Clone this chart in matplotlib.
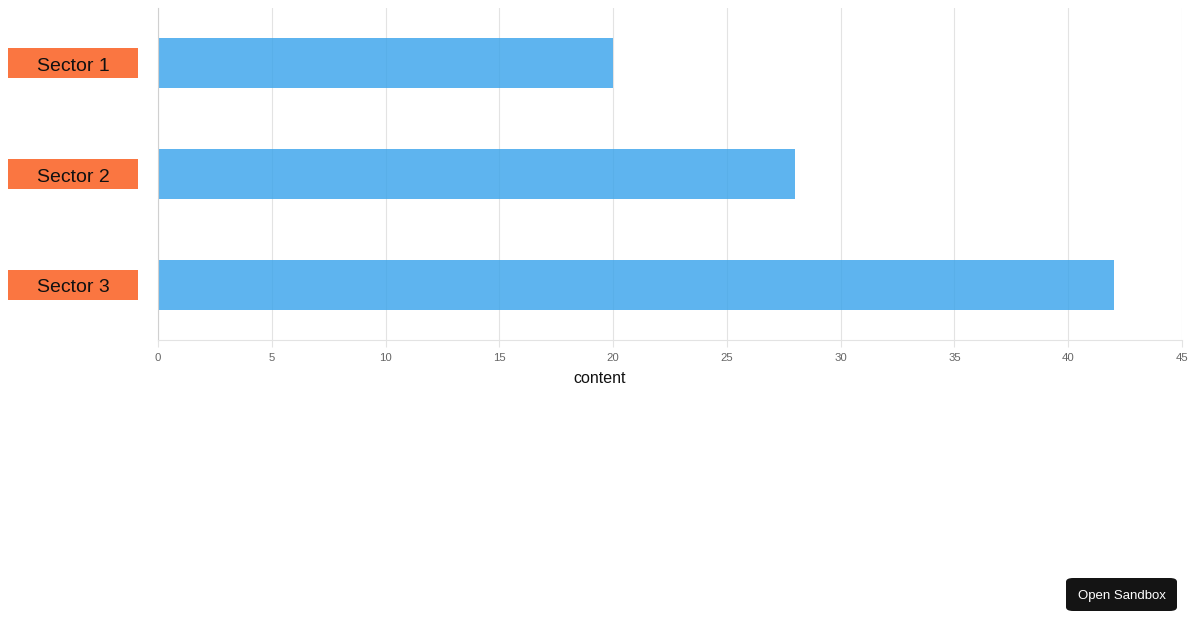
import matplotlib.pyplot as plt
import matplotlib.transforms as mtransforms
from matplotlib.patches import Rectangle, FancyBboxPatch

plt.rcParams['font.family'] = ['Liberation Sans', 'DejaVu Sans']

# datos
sectors = ['Sector 1', 'Sector 2', 'Sector 3']
values = [20, 28, 42]
x_ticks = [0, 5, 10, 15, 20, 25, 30, 35, 40, 45]

W, H = 1200, 630
fig = plt.figure(figsize=(W / 100, H / 100), dpi=100)
ax = fig.add_axes([158 / W, 1 - 340 / H, (1182 - 158) / W, (340 - 8) / H])

ypos = list(range(len(sectors)))
ax.barh(ypos, values, height=0.45, color='#36A2EB', alpha=0.8, zorder=2)

ax.set_xlim(0, 45)
ax.set_ylim(2.5, -0.5)
ax.set_xticks(x_ticks)
ax.set_xticklabels([str(t) for t in x_ticks], fontsize=8.2, color='#666666')
ax.set_yticks([])
ax.grid(axis='x', color='#e3e3e3', linewidth=0.8, zorder=0)
ax.tick_params(axis='x', length=5, width=0.8, color='#e3e3e3', pad=4.5)
for side in ['top', 'right']:
    ax.spines[side].set_visible(False)
ax.spines['bottom'].set_color('#e3e3e3')
ax.spines['left'].set_color('#d0d0d0')

# titulo del eje x centrado en la figura (como en el original)
fig.text(600 / W, 1 - 377 / H, 'content', ha='center', va='center_baseline',
         fontsize=11.5, color='#111111')

# etiquetas naranjas a la izquierda
trans = mtransforms.blended_transform_factory(fig.transFigure, ax.transData)
box_h = 30 / 110.7
for i, name in enumerate(sectors):
    rect = Rectangle((8 / W, i - box_h / 2), 130 / W, box_h, transform=trans,
                     facecolor='#FA7641', edgecolor='none', clip_on=False)
    fig.add_artist(rect)
    fig.text(73 / W, i + 0.01, name, transform=trans, ha='center', va='center_baseline',
             fontsize=14, color='#111111')

# boton "Open Sandbox"
btn = FancyBboxPatch((1066 / W, 1 - 611 / H), 111 / W, 33 / H,
                     boxstyle='round,pad=0,rounding_size=0.006',
                     transform=fig.transFigure, facecolor='#141414', edgecolor='none')
fig.add_artist(btn)
fig.text(1121.5 / W, 1 - 595 / H, 'Open Sandbox', ha='center', va='center_baseline',
         fontsize=9.5, color='white')

fig.savefig('out.png', dpi=100)
